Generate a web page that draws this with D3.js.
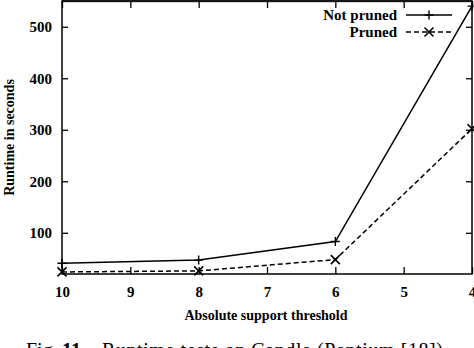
<!DOCTYPE html>
<html>
<head>
<meta charset="utf-8">
<script src="https://cdn.jsdelivr.net/npm/d3@7"></script>
<style>
  html, body { margin: 0; padding: 0; background: #fff; }
  svg { display: block; }
  text { font-family: "Liberation Serif", "DejaVu Serif", serif; fill: #000; }
</style>
</head>
<body>
<svg id="chart" width="474" height="348"></svg>
<script>
// Support thresholds (x axis runs from 10 down to 4)
const thresholds = [10, 8, 6, 4];
// Runtime in seconds for each threshold
const notPruned = [41, 47, 83, 540];
const pruned = [24, 26, 48, 302];
const xTicks = [10, 9, 8, 7, 6, 5, 4];
const yTicks = [100, 200, 300, 400, 500];
const seriesNames = ["Not pruned", "Pruned"];

const svg = d3.select("#chart");
const plotLeft = 62, plotRight = 472, plotTop = 1, plotBottom = 274;

const x = d3.scaleLinear().domain([10, 4]).range([plotLeft, plotRight]);
const y = d3.scaleLinear().domain([20, 550]).range([plotBottom, plotTop]);

// Frame
svg.append("line").attr("x1", plotLeft).attr("x2", plotRight).attr("y1", plotTop).attr("y2", plotTop)
  .attr("stroke", "#555").attr("stroke-width", 2.5);
svg.append("rect").attr("x", plotLeft).attr("y", plotTop)
  .attr("width", plotRight - plotLeft).attr("height", plotBottom - plotTop)
  .attr("fill", "none").attr("stroke", "#000").attr("stroke-width", 1.5);

// Axes with inward ticks, mirrored on the opposite sides
const tickFont = g => g.selectAll("text")
  .style("font-size", "15px").style("font-weight", "bold")
  .style("font-family", "'Liberation Serif', serif");

const yAxis = svg.append("g").attr("transform", `translate(${plotLeft},0)`)
  .call(d3.axisLeft(y).tickValues(yTicks).tickSize(-6).tickPadding(10).tickFormat(d3.format("d")));
yAxis.select(".domain").remove();
yAxis.call(tickFont);
yAxis.selectAll("line").attr("stroke-width", 1.3);

const yAxisR = svg.append("g").attr("transform", `translate(${plotRight},0)`)
  .call(d3.axisRight(y).tickValues(yTicks).tickSize(-6).tickFormat(""));
yAxisR.select(".domain").remove();
yAxisR.selectAll("line").attr("stroke-width", 1.3);

const xAxis = svg.append("g").attr("transform", `translate(0,${plotBottom})`)
  .call(d3.axisBottom(x).tickValues(xTicks).tickSize(-7).tickPadding(12).tickFormat(d3.format("d")));
xAxis.select(".domain").remove();
xAxis.call(tickFont);
xAxis.selectAll("line").attr("stroke-width", 1.3);

const xAxisT = svg.append("g").attr("transform", `translate(0,${plotTop})`)
  .call(d3.axisTop(x).tickValues(xTicks).tickSize(-7).tickFormat(""));
xAxisT.select(".domain").remove();
xAxisT.selectAll("line").attr("stroke-width", 1.3);

// Axis titles
svg.append("text").attr("transform", `translate(14,${(plotTop + plotBottom) / 2}) rotate(-90)`)
  .attr("text-anchor", "middle").style("font-size", "14px").style("font-weight", "bold")
  .text("Runtime in seconds");
svg.append("text").attr("x", 266).attr("y", 320).attr("text-anchor", "middle")
  .style("font-size", "14px").style("font-weight", "bold")
  .text("Absolute support threshold");

// Figure caption (runs below the bottom edge)
const capY = 357;
svg.append("text").attr("x", 26).attr("y", capY).style("font-size", "20px").text("Fig.");
svg.append("text").attr("x", 62).attr("y", capY).style("font-size", "20px")
  .style("font-weight", "bold").text("11.");
svg.append("text").attr("x", 102).attr("y", capY).style("font-size", "20px")
  .attr("textLength", 341).attr("lengthAdjust", "spacing")
  .text("Runtime tests on Candle (Pentium [18])");

// Series
const line = d3.line().x(d => x(d[0])).y(d => y(d[1]));
const series = [
  { name: seriesNames[0], values: notPruned, dash: null, mark: "plus" },
  { name: seriesNames[1], values: pruned, dash: "5,3", mark: "cross" }
];

function marker(g, cx, cy, kind) {
  const s = 4.5;
  if (kind === "plus") {
    g.append("path").attr("d", `M${cx - s},${cy}H${cx + s}M${cx},${cy - s}V${cy + s}`)
      .attr("stroke", "#000").attr("stroke-width", 1.4).attr("fill", "none");
  } else {
    g.append("path").attr("d", `M${cx - s},${cy - s}L${cx + s},${cy + s}M${cx - s},${cy + s}L${cx + s},${cy - s}`)
      .attr("stroke", "#000").attr("stroke-width", 1.6).attr("fill", "none");
  }
}

const plot = svg.append("g");
series.forEach(s => {
  const pts = thresholds.map((t, i) => [t, s.values[i]]);
  plot.append("path").attr("d", line(pts)).attr("fill", "none").attr("stroke", "#000")
    .attr("stroke-width", 1.5).attr("stroke-dasharray", s.dash);
  pts.forEach(p => marker(plot, x(p[0]), y(p[1]), s.mark));
});

// Legend
const legend = svg.append("g");
series.forEach((s, i) => {
  const ly = 15 + i * 17;
  legend.append("text").attr("x", 397).attr("y", ly).attr("dy", "0.35em")
    .attr("text-anchor", "end").style("font-size", "15px").style("font-weight", "bold").text(s.name);
  legend.append("line").attr("x1", 406).attr("x2", 452).attr("y1", ly).attr("y2", ly)
    .attr("stroke", "#000").attr("stroke-width", 1.5).attr("stroke-dasharray", s.dash);
  marker(legend, 429, ly, s.mark);
});
</script>
</body>
</html>
